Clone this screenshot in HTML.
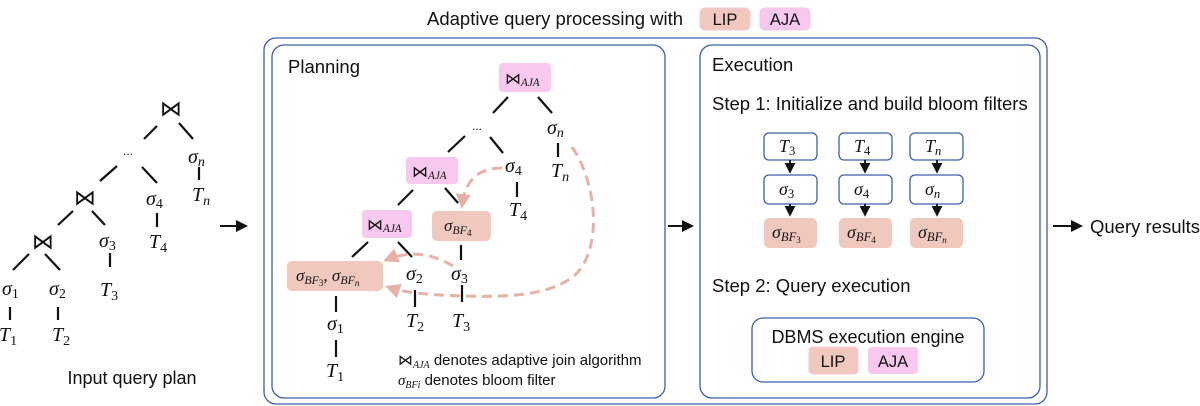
<!DOCTYPE html>
<html><head><meta charset="utf-8"><style>
html,body{margin:0;padding:0;background:#fff;}
svg{display:block}
.s{font-family:"Liberation Sans",sans-serif;fill:#111}
.m{font-family:"Liberation Serif",serif;font-style:italic;fill:#111}
.j{font-family:"DejaVu Sans",sans-serif;fill:#111}
.sub{font-size:0.7em}
</style></head><body>
<svg width="1200" height="406" viewBox="0 0 1200 406" xmlns="http://www.w3.org/2000/svg">
<defs>
<marker id="ah" markerWidth="6" markerHeight="6" refX="5" refY="3" orient="auto" markerUnits="strokeWidth"><path d="M0,0 L6,3 L0,6 z" fill="#111"/></marker>
<marker id="ap" markerWidth="5" markerHeight="5" refX="4" refY="2.5" orient="auto" markerUnits="strokeWidth"><path d="M0,0 L5,2.5 L0,5 z" fill="#e6b2a6"/></marker>
</defs>
<!-- title -->
<text x="427" y="25" class="s" font-size="18.5">Adaptive query processing with</text>
<rect x="700" y="8" width="50" height="22" rx="5" fill="#f1c8be" stroke="#f5c6dd"/>
<text x="725" y="25" class="s" font-size="16.5" text-anchor="middle">LIP</text>
<rect x="760" y="8" width="50" height="22" rx="5" fill="#f8c8ee" stroke="#f5c6dd"/>
<text x="785" y="25" class="s" font-size="16.5" text-anchor="middle">AJA</text>

<!-- boxes -->
<rect x="264" y="38" width="783" height="366" rx="12" fill="none" stroke="#3f5fa8" stroke-width="1.3"/>
<rect x="272" y="45" width="393" height="353" rx="12" fill="none" stroke="#3f5fa8" stroke-width="1.3"/>
<rect x="700" y="45" width="340" height="353" rx="12" fill="none" stroke="#3f5fa8" stroke-width="1.3"/>

<!-- left tree -->
<g stroke="#111" stroke-width="2.2">
<line x1="144" y1="139" x2="157" y2="126"/><line x1="179" y1="123" x2="193" y2="139"/>
<line x1="100" y1="181" x2="117" y2="166"/><line x1="142" y1="167" x2="157" y2="183"/>
<line x1="58" y1="225" x2="73" y2="211"/><line x1="92" y1="211" x2="105" y2="225"/>
<line x1="13" y1="270" x2="29" y2="254"/><line x1="45" y1="254" x2="60" y2="270"/>
<line x1="199" y1="167" x2="199" y2="180"/><line x1="157" y1="213" x2="157" y2="227"/>
<line x1="110" y1="253" x2="110" y2="267"/><line x1="10" y1="307" x2="10" y2="320"/><line x1="58" y1="307" x2="58" y2="320"/>
</g>
<g font-size="20">
<text x="171" y="116" class="j" font-size="22" text-anchor="middle">⋈</text>
<text x="128" y="155" class="s" font-size="12" text-anchor="middle">...</text>
<text x="188" y="163" class="m">σ<tspan class="sub" dy="3">n</tspan></text>
<text x="192" y="201" class="m">T<tspan class="sub" dy="4">n</tspan></text>
<text x="85" y="205" class="j" font-size="22" text-anchor="middle">⋈</text>
<text x="146" y="205" class="m">σ<tspan class="sub" dy="3" font-style="normal">4</tspan></text>
<text x="149" y="248" class="m">T<tspan class="sub" dy="4" font-style="normal">4</tspan></text>
<text x="43" y="249" class="j" font-size="22" text-anchor="middle">⋈</text>
<text x="99" y="247" class="m">σ<tspan class="sub" dy="3" font-style="normal">3</tspan></text>
<text x="100" y="296" class="m">T<tspan class="sub" dy="4" font-style="normal">3</tspan></text>
<text x="2" y="295" class="m">σ<tspan class="sub" dy="3" font-style="normal">1</tspan></text>
<text x="49" y="295" class="m">σ<tspan class="sub" dy="3" font-style="normal">2</tspan></text>
<text x="-1" y="341" class="m">T<tspan class="sub" dy="4" font-style="normal">1</tspan></text>
<text x="52" y="341" class="m">T<tspan class="sub" dy="4" font-style="normal">2</tspan></text>
</g>
<text x="132" y="384" class="s" font-size="18" text-anchor="middle">Input query plan</text>
<line x1="220" y1="226" x2="246" y2="226" stroke="#111" stroke-width="2" marker-end="url(#ah)"/>

<!-- planning -->
<text x="288" y="73" class="s" font-size="18.5">Planning</text>
<rect x="499" y="63" width="52" height="29" rx="4" fill="#f8c8ee"/>
<text x="505" y="84" class="m" font-size="16"><tspan class="j" font-style="normal">⋈</tspan><tspan class="sub" dy="2">AJA</tspan></text>
<rect x="406" y="157" width="52" height="27" rx="4" fill="#f8c8ee"/>
<text x="412" y="177" class="m" font-size="16"><tspan class="j" font-style="normal">⋈</tspan><tspan class="sub" dy="2">AJA</tspan></text>
<rect x="362" y="210" width="50" height="28" rx="4" fill="#f8c8ee"/>
<text x="367" y="230" class="m" font-size="16"><tspan class="j" font-style="normal">⋈</tspan><tspan class="sub" dy="2">AJA</tspan></text>
<rect x="432" y="211" width="59" height="30" rx="5" fill="#f1c8be"/>
<text x="444" y="231" class="m" font-size="17">σ<tspan class="sub" dy="3">BF<tspan font-style="normal" font-size="0.8em" dy="2">4</tspan></tspan></text>
<rect x="287" y="261" width="96" height="30" rx="5" fill="#f1c8be"/>
<text x="296" y="281" class="m" font-size="17">σ<tspan class="sub" dy="3">BF</tspan><tspan font-style="normal" font-size="9" dy="2">3</tspan><tspan dy="-5">, σ</tspan><tspan class="sub" dy="3">BF</tspan><tspan font-size="9" dy="2">n</tspan></text>
<g stroke="#111" stroke-width="2.2">
<line x1="493" y1="113" x2="508" y2="97"/><line x1="538" y1="97" x2="552" y2="113"/>
<line x1="448" y1="152" x2="465" y2="136"/><line x1="490" y1="137" x2="503" y2="153"/>
<line x1="398" y1="205" x2="413" y2="190"/><line x1="445" y1="188" x2="458" y2="203"/>
<line x1="352" y1="257" x2="368" y2="242"/><line x1="398" y1="242" x2="412" y2="257"/>
<line x1="558" y1="143" x2="558" y2="157"/><line x1="517" y1="182" x2="517" y2="197"/>
<line x1="461" y1="245" x2="461" y2="260"/><line x1="415" y1="290" x2="415" y2="307"/>
<line x1="462" y1="285" x2="462" y2="302"/><line x1="336" y1="296" x2="336" y2="312"/>
<line x1="336" y1="340" x2="336" y2="357"/>
</g>
<g font-size="20">
<text x="477" y="130" class="s" font-size="12" text-anchor="middle">...</text>
<text x="547" y="134" class="m">σ<tspan class="sub" dy="3">n</tspan></text>
<text x="551" y="177" class="m">T<tspan class="sub" dy="4">n</tspan></text>
<text x="505" y="172" class="m">σ<tspan class="sub" dy="3" font-style="normal">4</tspan></text>
<text x="509" y="216" class="m">T<tspan class="sub" dy="4" font-style="normal">4</tspan></text>
<text x="406" y="280" class="m">σ<tspan class="sub" dy="3" font-style="normal">2</tspan></text>
<text x="451" y="280" class="m">σ<tspan class="sub" dy="3" font-style="normal">3</tspan></text>
<text x="406" y="327" class="m">T<tspan class="sub" dy="4" font-style="normal">2</tspan></text>
<text x="452" y="327" class="m">T<tspan class="sub" dy="4" font-style="normal">3</tspan></text>
<text x="327" y="330" class="m">σ<tspan class="sub" dy="3" font-style="normal">1</tspan></text>
<text x="326" y="377" class="m">T<tspan class="sub" dy="4" font-style="normal">1</tspan></text>
</g>
<g fill="none" stroke="#e6b2a6" stroke-width="3" stroke-dasharray="10,6">
<path d="M502 168 Q466 168 462 206" marker-end="url(#ap)"/>
<path d="M453 266 Q420 246 386 260" marker-end="url(#ap)"/>
<path d="M572 147 C598 185 602 250 575 275 C550 297 500 297 465 296 C430 295 405 293 388 287" marker-end="url(#ap)"/>
</g>
<text x="398" y="365" class="s" font-size="15"><tspan class="j">⋈</tspan><tspan class="m" font-size="10" dy="3">AJA</tspan><tspan dy="-3"> denotes adaptive join algorithm</tspan></text>
<text x="398" y="385" class="s" font-size="15"><tspan class="m">σ</tspan><tspan class="m" font-size="10" dy="3">BFi</tspan><tspan dy="-3"> denotes bloom filter</tspan></text>
<line x1="668" y1="226" x2="692" y2="226" stroke="#111" stroke-width="2" marker-end="url(#ah)"/>

<!-- execution -->
<text x="712" y="71" class="s" font-size="18.5">Execution</text>
<text x="712" y="110" class="s" font-size="18.5">Step 1: Initialize and build bloom filters</text>
<g fill="#fff" stroke="#3f5fa8" stroke-width="1.3">
<rect x="764" y="133" width="53" height="27" rx="5"/><rect x="839" y="133" width="53" height="27" rx="5"/><rect x="910" y="133" width="53" height="27" rx="5"/>
<rect x="764" y="175" width="53" height="29" rx="5"/><rect x="839" y="175" width="53" height="29" rx="5"/><rect x="910" y="175" width="53" height="29" rx="5"/>
</g>
<g fill="#f1c8be">
<rect x="764" y="218" width="53" height="30" rx="5"/><rect x="839" y="218" width="53" height="30" rx="5"/><rect x="910" y="218" width="53" height="30" rx="5"/>
</g>
<g stroke="#111" stroke-width="1.8">
<line x1="790" y1="160" x2="790" y2="172" marker-end="url(#ah)"/><line x1="865" y1="160" x2="865" y2="172" marker-end="url(#ah)"/><line x1="937" y1="160" x2="937" y2="172" marker-end="url(#ah)"/>
<line x1="790" y1="204" x2="790" y2="215" marker-end="url(#ah)"/><line x1="865" y1="204" x2="865" y2="215" marker-end="url(#ah)"/><line x1="937" y1="204" x2="937" y2="215" marker-end="url(#ah)"/>
</g>
<g font-size="18">
<text x="779" y="152" class="m">T<tspan class="sub" dy="3" font-style="normal">3</tspan></text>
<text x="854" y="152" class="m">T<tspan class="sub" dy="3" font-style="normal">4</tspan></text>
<text x="925" y="152" class="m">T<tspan class="sub" dy="3">n</tspan></text>
<text x="779" y="195" class="m">σ<tspan class="sub" dy="3" font-style="normal">3</tspan></text>
<text x="854" y="195" class="m">σ<tspan class="sub" dy="3" font-style="normal">4</tspan></text>
<text x="925" y="195" class="m">σ<tspan class="sub" dy="3">n</tspan></text>
<text x="772" y="238" class="m">σ<tspan class="sub" dy="3">BF</tspan><tspan font-size="9" font-style="normal" dy="2">3</tspan></text>
<text x="847" y="238" class="m">σ<tspan class="sub" dy="3">BF</tspan><tspan font-size="9" font-style="normal" dy="2">4</tspan></text>
<text x="918" y="238" class="m">σ<tspan class="sub" dy="3">BF</tspan><tspan font-size="9" dy="2">n</tspan></text>
</g>
<text x="712" y="292" class="s" font-size="18.5">Step 2: Query execution</text>
<rect x="752" y="318" width="232" height="64" rx="11" fill="none" stroke="#3f5fa8" stroke-width="1.3"/>
<text x="868" y="343" class="s" font-size="18" text-anchor="middle">DBMS execution engine</text>
<rect x="809" y="347" width="49" height="27" rx="4" fill="#f1c8be" stroke="#f5c6dd"/>
<text x="833" y="367" class="s" font-size="16.5" text-anchor="middle">LIP</text>
<rect x="868" y="347" width="50" height="27" rx="4" fill="#f8c8ee"/>
<text x="893" y="367" class="s" font-size="16.5" text-anchor="middle">AJA</text>

<line x1="1053" y1="226" x2="1081" y2="226" stroke="#111" stroke-width="2" marker-end="url(#ah)"/>
<text x="1090" y="233" class="s" font-size="18.5">Query results</text>
</svg>
</body></html>
